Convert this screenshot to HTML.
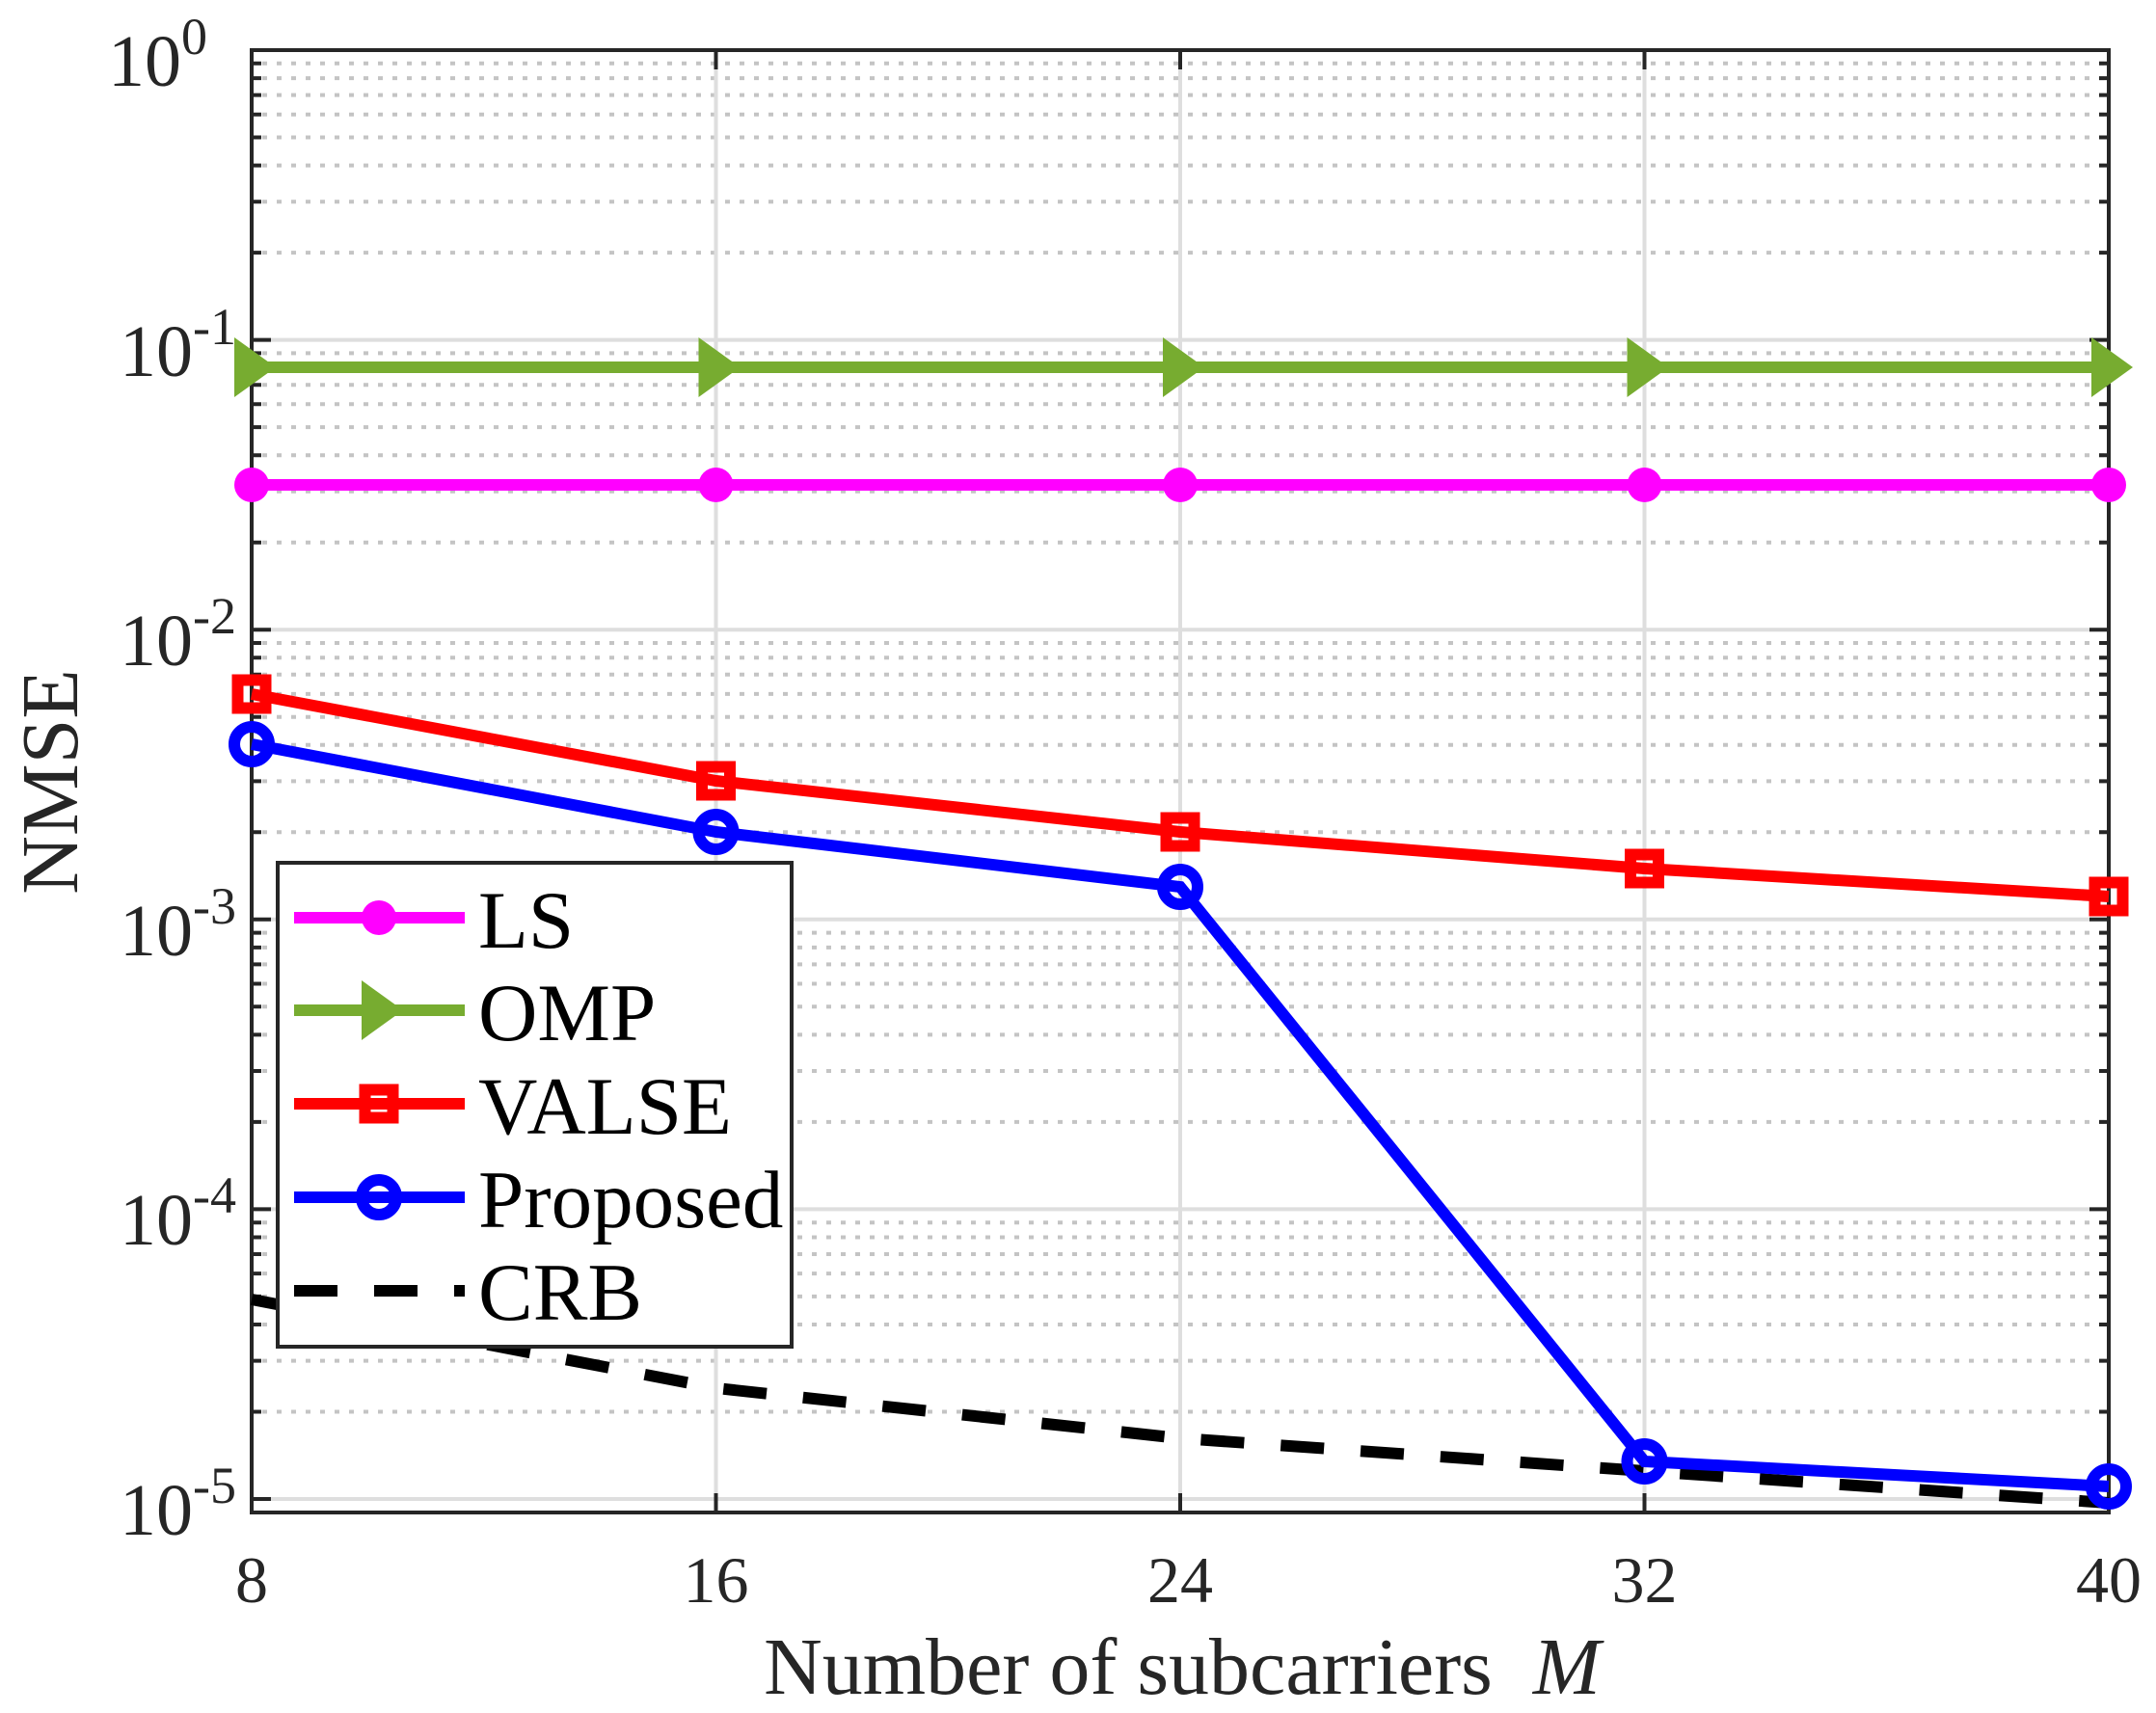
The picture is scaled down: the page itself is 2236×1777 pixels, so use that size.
<!DOCTYPE html>
<html><head><meta charset="utf-8"><style>
html,body{margin:0;padding:0;background:#fff;}
svg{display:block;}
text{font-family:"Liberation Serif",serif;fill:#262626;}
</style></head><body>
<svg width="2236" height="1777" viewBox="0 0 2236 1777" xmlns="http://www.w3.org/2000/svg">
<rect width="2236" height="1777" fill="#fff"/>
<path fill="none" stroke="#c4c4c4" stroke-width="4" stroke-dasharray="5 10" d="
M272 65.8H2187M272 81.1H2187M272 98.6H2187M272 118.7H2187M272 142.5H2187M272 171.6H2187M272 209.2H2187M272 262.1H2187
M272 366.4H2187M272 381.7H2187M272 399.2H2187M272 419.3H2187M272 443.1H2187M272 472.2H2187M272 509.8H2187M272 562.7H2187
M272 667H2187M272 682.3H2187M272 699.8H2187M272 719.9H2187M272 743.7H2187M272 772.8H2187M272 810.4H2187M272 863.3H2187
M272 967.6H2187M272 982.9H2187M272 1000.4H2187M272 1020.5H2187M272 1044.3H2187M272 1073.4H2187M272 1111H2187M272 1163.9H2187
M272 1268.2H2187M272 1283.5H2187M272 1301H2187M272 1321.1H2187M272 1344.9H2187M272 1374H2187M272 1411.6H2187M272 1464.5H2187"/>
<path fill="none" stroke="#dedede" stroke-width="4" d="
M261 352.6H2187M261 653.2H2187M261 953.8H2187M261 1254.4H2187M261 1555H2187
M742.5 52V1569M1224 52V1569M1705.5 52V1569"/>
<path fill="none" stroke="#262626" stroke-width="4" d="
M261 352.6h20M261 653.2h20M261 953.8h20M261 1254.4h20M261 1555h20
M2187 352.6h-20M2187 653.2h-20M2187 953.8h-20M2187 1254.4h-20M2187 1555h-20
M742.5 1569v-20M1224 1569v-20M1705.5 1569v-20M742.5 52v20M1224 52v20M1705.5 52v20"/>
<path fill="none" stroke="#262626" stroke-width="4" d="
M261 65.8h10M261 81.1h10M261 98.6h10M261 118.7h10M261 142.5h10M261 171.6h10M261 209.2h10M261 262.1h10
M261 366.4h10M261 381.7h10M261 399.2h10M261 419.3h10M261 443.1h10M261 472.2h10M261 509.8h10M261 562.7h10
M261 667h10M261 682.3h10M261 699.8h10M261 719.9h10M261 743.7h10M261 772.8h10M261 810.4h10M261 863.3h10
M261 967.6h10M261 982.9h10M261 1000.4h10M261 1020.5h10M261 1044.3h10M261 1073.4h10M261 1111h10M261 1163.9h10
M261 1268.2h10M261 1283.5h10M261 1301h10M261 1321.1h10M261 1344.9h10M261 1374h10M261 1411.6h10M261 1464.5h10
M2187 65.8h-10M2187 81.1h-10M2187 98.6h-10M2187 118.7h-10M2187 142.5h-10M2187 171.6h-10M2187 209.2h-10M2187 262.1h-10
M2187 366.4h-10M2187 381.7h-10M2187 399.2h-10M2187 419.3h-10M2187 443.1h-10M2187 472.2h-10M2187 509.8h-10M2187 562.7h-10
M2187 667h-10M2187 682.3h-10M2187 699.8h-10M2187 719.9h-10M2187 743.7h-10M2187 772.8h-10M2187 810.4h-10M2187 863.3h-10
M2187 967.6h-10M2187 982.9h-10M2187 1000.4h-10M2187 1020.5h-10M2187 1044.3h-10M2187 1073.4h-10M2187 1111h-10M2187 1163.9h-10
M2187 1268.2h-10M2187 1283.5h-10M2187 1301h-10M2187 1321.1h-10M2187 1344.9h-10M2187 1374h-10M2187 1411.6h-10M2187 1464.5h-10"/>
<rect x="261" y="52" width="1926" height="1517" fill="none" stroke="#262626" stroke-width="4"/>

<polyline fill="none" stroke="#000" stroke-width="12" stroke-dasharray="45 38" points="261,1348 742.5,1440 1224,1492 1705.5,1526 2187,1559"/>
<polyline fill="none" stroke="#ff00ff" stroke-width="12" points="261,503 2187,503"/>
<g fill="#ff00ff"><circle cx="261" cy="503" r="18"/><circle cx="742.5" cy="503" r="18"/><circle cx="1224" cy="503" r="18"/><circle cx="1705.5" cy="503" r="18"/><circle cx="2187" cy="503" r="18"/></g>
<polyline fill="none" stroke="#77ac30" stroke-width="12" points="261,381 2187,381"/>
<g fill="#77ac30">
<polygon points="243,350 286,381 243,412"/><polygon points="724.5,350 767.5,381 724.5,412"/><polygon points="1206,350 1249,381 1206,412"/><polygon points="1687.5,350 1730.5,381 1687.5,412"/><polygon points="2169,350 2212,381 2169,412"/>
</g>
<polyline fill="none" stroke="#ff0000" stroke-width="12" points="261,720 742.5,810 1224,863 1705.5,901 2187,930"/>
<g fill="none" stroke="#ff0000" stroke-width="12">
<rect x="246.5" y="705.5" width="29" height="29"/><rect x="728" y="795.5" width="29" height="29"/><rect x="1209.5" y="848.5" width="29" height="29"/><rect x="1691" y="886.5" width="29" height="29"/><rect x="2172.5" y="915.5" width="29" height="29"/>
</g>
<polyline fill="none" stroke="#0000ff" stroke-width="12" points="261,772 742.5,863 1224,920 1705.5,1516 2187,1542"/>
<g fill="none" stroke="#0000ff" stroke-width="12">
<circle cx="261" cy="772" r="18"/><circle cx="742.5" cy="863" r="18"/><circle cx="1224" cy="920" r="18"/><circle cx="1705.5" cy="1516" r="18"/><circle cx="2187" cy="1542" r="18"/>
</g>

<rect x="288" y="895" width="533" height="502" fill="#fff" stroke="#262626" stroke-width="4"/>
<line x1="305" y1="952" x2="482" y2="952" stroke="#ff00ff" stroke-width="12"/>
<circle cx="393" cy="952" r="18" fill="#ff00ff"/>
<line x1="305" y1="1048" x2="482" y2="1048" stroke="#77ac30" stroke-width="12"/>
<polygon points="375,1017 418,1048 375,1079" fill="#77ac30"/>
<line x1="305" y1="1145" x2="482" y2="1145" stroke="#ff0000" stroke-width="12"/>
<rect x="378.5" y="1130.5" width="29" height="29" fill="none" stroke="#ff0000" stroke-width="12"/>
<line x1="305" y1="1242" x2="482" y2="1242" stroke="#0000ff" stroke-width="12"/>
<circle cx="393" cy="1242" r="18" fill="none" stroke="#0000ff" stroke-width="12"/>
<line x1="305" y1="1339" x2="482" y2="1339" stroke="#000" stroke-width="12" stroke-dasharray="45 38"/>
<g font-size="85">
<text x="496" y="983" style="fill:#000">LS</text>
<text x="496" y="1079" style="fill:#000">OMP</text>
<text x="496" y="1176" style="fill:#000">VALSE</text>
<text x="496" y="1273" style="fill:#000">Proposed</text>
<text x="496" y="1369" style="fill:#000">CRB</text>
</g>

<g font-size="76" text-anchor="end">
<text x="215" y="89">10<tspan font-size="54" dy="-33">0</tspan></text>
<text x="245" y="390">10<tspan font-size="54" dy="-33">-1</tspan></text>
<text x="245" y="690">10<tspan font-size="54" dy="-33">-2</tspan></text>
<text x="245" y="991">10<tspan font-size="54" dy="-33">-3</tspan></text>
<text x="245" y="1291">10<tspan font-size="54" dy="-33">-4</tspan></text>
<text x="245" y="1592">10<tspan font-size="54" dy="-33">-5</tspan></text>
</g>
<g font-size="68" text-anchor="middle">
<text x="261" y="1662">8</text><text x="742.5" y="1662">16</text><text x="1224" y="1662">24</text><text x="1705.5" y="1662">32</text><text x="2187" y="1662">40</text>
</g>
<text x="1226" y="1757" font-size="84" text-anchor="middle" xml:space="preserve">Number of subcarriers  <tspan font-style="italic">M</tspan></text>
<text transform="translate(80,811) rotate(-90)" font-size="84" text-anchor="middle">NMSE</text>
</svg>
</body></html>
